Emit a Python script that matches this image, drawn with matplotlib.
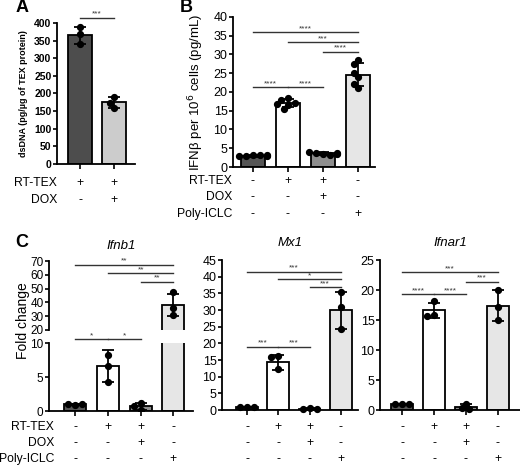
import numpy as np
import matplotlib.pyplot as plt
from matplotlib.transforms import blended_transform_factory

plt.rcParams['font.family'] = ['Liberation Sans', 'DejaVu Sans']

# ---- data ----
a_means = [365, 175]
a_sd = [25, 15]
a_pts = [[388, 340, 368], [190, 160, 172]]
a_colors = ['#4d4d4d', '#cccccc']
a_rows = [('RT-TEX', ['+', '+']), ('DOX', ['-', '+'])]
a_sig = [(0, 1, 415, '***')]

b_means = [3.0, 17.0, 3.6, 24.6]
b_sd = [0.3, 1.1, 0.3, 3.0]
b_pts = [[3.1, 2.8, 3.3, 2.9, 3.2, 3.0],
         [18.5, 16.5, 17.8, 15.5, 17.0, 16.8],
         [3.4, 3.8, 3.3, 4.0, 3.6, 3.5],
         [28.5, 27.5, 24.0, 25.0, 21.0, 22.0]]
b_sig = [(0, 3, 36.0, '****'), (1, 3, 33.3, '***'), (2, 3, 30.7, '****'),
         (0, 1, 21.3, '****'), (1, 2, 21.3, '****')]

c_rows = [('RT-TEX', ['-', '+', '+', '-']),
          ('DOX', ['-', '-', '+', '-']),
          ('Poly-ICLC', ['-', '-', '-', '+'])]
bar_colors = ['#555555', '#ffffff', '#8e8e8e', '#e6e6e6']

ifnb1_means = [1.0, 6.6, 0.7, 38.2]
ifnb1_sd = [0.1, 2.3, 0.55, 8.2]
ifnb1_pts = [[0.95, 1.0, 1.05], [8.3, 6.6, 4.2], [1.2, 0.8, 0.15], [47.4, 36.3, 30.8]]
ifnb1_sig_top = [(0, 3, 67.4, '**'), (1, 3, 61.3, '**'), (2, 3, 54.9, '**')]
ifnb1_sig_low = [(0, 1, 10.6, '*'), (1, 2, 10.6, '*')]

mx1_means = [0.9, 14.3, 0.35, 29.9]
mx1_sd = [0.1, 2.2, 0.25, 5.6]
mx1_pts = [[1.0, 0.8, 0.9], [16.2, 12.2, 16.0], [0.7, 0.3, 0.2], [35.3, 31.0, 24.2]]
mx1_sig = [(0, 3, 41.5, '***'), (1, 3, 39.2, '*'), (2, 3, 36.8, '***'),
           (0, 1, 19.0, '***'), (1, 2, 19.0, '***')]

ifnar1_means = [1.0, 16.6, 0.45, 17.4]
ifnar1_sd = [0.05, 1.2, 0.5, 2.6]
ifnar1_pts = [[1.0, 1.0, 1.0], [18.2, 15.8, 15.6], [1.0, 0.3, 0.1], [20.0, 17.2, 15.0]]
ifnar1_sig = [(0, 3, 23.0, '***'), (2, 3, 21.4, '***'),
              (0, 1, 19.3, '****'), (1, 2, 19.3, '****')]

W, H = 520, 469
fig = plt.figure(figsize=(W / 100, H / 100), dpi=100)


def box(l, t, r, b):
    return [l / W, 1 - b / H, (r - l) / W, (b - t) / H]


def style(ax, fs, bottom=True):
    for s in ['top', 'right']:
        ax.spines[s].set_visible(False)
    ax.spines['left'].set_linewidth(1.3)
    ax.spines['bottom'].set_linewidth(1.3)
    ax.spines['bottom'].set_visible(bottom)
    ax.tick_params(axis='y', length=3, width=1.2, labelsize=fs, pad=1)
    ax.tick_params(axis='x', length=3.5 if bottom else 0, width=1.2, labelbottom=False)
    if not bottom:
        ax.set_xticks([])


def swarm(ax, xc, vals, dist=4.5, step=3.5):
    p0 = ax.transData.transform((0, 0))
    p1 = ax.transData.transform((1, 0))
    pxx = p1[0] - p0[0]
    placed, xs = [], []
    for v in vals:
        y = ax.transData.transform((0, v))[1]
        for k in [0, -1, 1, -2, 2, -3, 3, -4, 4]:
            x = k * step
            if all((x - a) ** 2 + (y - b) ** 2 >= dist ** 2 for a, b in placed):
                break
        placed.append((x, y))
        xs.append(xc + x / pxx)
    return xs


def bars(ax, means, sd, pts, colors, width, ms=4.2, clip=False):
    x = np.arange(len(means))
    ax.bar(x, means, width=width, color=colors, edgecolor='black', linewidth=1.3, zorder=2)
    ax.errorbar(x, means, yerr=sd, fmt='none', ecolor='black', elinewidth=1.3,
                capsize=4, capthick=1.3, zorder=3)
    for i, p in enumerate(pts):
        ax.plot(swarm(ax, i, p), p, 'o', color='black', ms=ms, zorder=4, clip_on=clip)
    ax.set_xticks(x)


def sig(ax, items, fs=6):
    for i, j, y, s in items:
        ax.plot([i, j], [y, y], color='#333333', lw=1, clip_on=False, zorder=5)
        ax.text((i + j) / 2, y, s, ha='center', va='bottom', fontsize=fs,
                color='#333333', clip_on=False)


def rows(ax, items, ys, xlab, fs=8.7):
    tr = blended_transform_factory(ax.transData, fig.transFigure)
    for (lab, signs), y in zip(items, ys):
        yf = 1 - y / H
        if lab:
            fig.text(xlab / W, yf, lab, ha='right', va='center', fontsize=fs)
        for i, s in enumerate(signs):
            ax.text(i, yf, s, transform=tr, ha='center', va='center', fontsize=fs)


# ---- panel A ----
axA = fig.add_axes(box(57, 23, 135, 164))
axA.set_xlim(-0.69, 1.64)
axA.set_ylim(0, 400)
axA.set_yticks(range(0, 401, 50))
style(axA, 7.5)
for t in axA.get_yticklabels():
    t.set_fontweight('bold')
bars(axA, a_means, a_sd, a_pts, a_colors, 0.72)
sig(axA, a_sig)
axA.set_ylabel('dsDNA (pg/µg of TEX protein)', fontsize=6.5, fontweight='bold')
axA.yaxis.set_label_coords(-0.37, 0.5)
rows(axA, a_rows, [183, 200], 57)

# ---- panel B ----
axB = fig.add_axes(box(233, 17, 375, 167))
axB.set_xlim(-0.57, 3.49)
axB.set_ylim(0, 40)
axB.set_yticks(range(0, 41, 5))
style(axB, 9)
bars(axB, b_means, b_sd, b_pts, bar_colors, 0.69)
sig(axB, b_sig)
axB.set_ylabel('IFNβ per 10$^6$ cells (pg/mL)', fontsize=9.5, labelpad=0)
axB.yaxis.set_label_coords(-0.19, 0.5)
rows(axB, c_rows, [181, 197, 214], 232)

# ---- panel C: Ifnb1 (broken axis) ----
axT = fig.add_axes(box(49, 261, 193, 330))
axL = fig.add_axes(box(49, 343, 193, 411))
for ax in (axT, axL):
    ax.set_xlim(-0.8, 3.6)
axT.set_ylim(20, 70)
axT.set_yticks(range(20, 71, 10))
axL.set_ylim(0, 10)
axL.set_yticks([0, 5, 10])
style(axT, 8.5, bottom=False)
style(axL, 8.5)
bars(axT, ifnb1_means, ifnb1_sd, ifnb1_pts, bar_colors, 0.68, clip=True)
axT.set_xticks([])
bars(axL, ifnb1_means, ifnb1_sd, ifnb1_pts, bar_colors, 0.68, clip=True)
sig(axT, ifnb1_sig_top)
sig(axL, ifnb1_sig_low)
axT.set_title('Ifnb1', fontsize=9.5, fontstyle='italic', pad=9)
fig.text(23 / W, 1 - 321 / H, 'Fold change', rotation=90, ha='center', va='center', fontsize=10)
rows(axL, c_rows, [427, 443, 459], 54)

# ---- panel C: Mx1 ----
axM = fig.add_axes(box(222, 260, 358, 410))
axM.set_xlim(-0.8, 3.55)
axM.set_ylim(0, 45)
axM.set_yticks(range(0, 46, 5))
style(axM, 9)
bars(axM, mx1_means, mx1_sd, mx1_pts, bar_colors, 0.7)
sig(axM, mx1_sig)
axM.set_title('Mx1', fontsize=9.5, fontstyle='italic', pad=10)
rows(axM, [('', s) for _, s in c_rows], [427, 443, 459], 0)

# ---- panel C: Ifnar1 ----
axR = fig.add_axes(box(380, 260, 520, 410))
axR.set_xlim(-0.7, 3.7)
axR.set_ylim(0, 25)
axR.set_yticks(range(0, 26, 5))
style(axR, 9)
bars(axR, ifnar1_means, ifnar1_sd, ifnar1_pts, bar_colors, 0.7)
sig(axR, ifnar1_sig)
axR.set_title('Ifnar1', fontsize=9.5, fontstyle='italic', pad=10)
rows(axR, [('', s) for _, s in c_rows], [427, 443, 459], 0)

# panel letters
fig.text(22 / W, 1 - 8 / H, 'A', fontsize=13, fontweight='bold', ha='center', va='center')
fig.text(186 / W, 1 - 8 / H, 'B', fontsize=13, fontweight='bold', ha='center', va='center')
fig.text(22 / W, 1 - 242 / H, 'C', fontsize=13, fontweight='bold', ha='center', va='center')

fig.savefig('out.png', dpi=100)
